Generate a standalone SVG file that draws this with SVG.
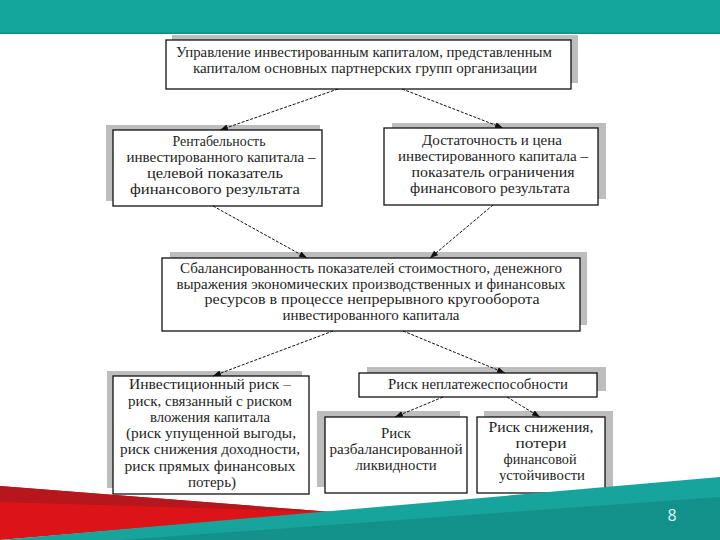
<svg xmlns="http://www.w3.org/2000/svg" width="720" height="540" viewBox="0 0 720 540">
<defs>
<marker id="ah" markerWidth="8" markerHeight="6" refX="8" refY="3" orient="auto" markerUnits="userSpaceOnUse">
<path d="M0,0 L8,3 L0,6 Z" fill="#111"/>
</marker>
<style>
.sh{fill:#bdbdbd}
.bx{fill:#fff;stroke:#111;stroke-width:1.3}
.t{font-family:"Liberation Serif","Times New Roman",serif;font-size:14px;fill:#1e1e1e;text-anchor:middle}
.ar{stroke:#111;stroke-width:1;stroke-dasharray:3 1.5;fill:none;marker-end:url(#ah)}
</style>
</defs>
<rect x="0" y="0" width="720" height="540" fill="#fff"/>
<rect x="0" y="0" width="720" height="34" fill="#14a59c"/>
<rect x="0" y="32.5" width="720" height="1.5" fill="#0f8f88"/>

<g id="n1">
<rect class="sh" x="172" y="35" width="406" height="48"/>
<rect class="bx" x="166" y="40" width="405" height="49"/>
<text class="t" x="364" y="57" textLength="376" lengthAdjust="spacingAndGlyphs">Управление инвестированным капиталом, представленным</text>
<text class="t" x="365" y="73" textLength="344" lengthAdjust="spacingAndGlyphs">капиталом основных партнерских групп организации</text>
</g>

<g id="n2">
<rect class="sh" x="106" y="125" width="214" height="76"/>
<rect class="bx" x="113" y="130" width="209" height="76"/>
<text class="t" x="219" y="146" textLength="93" lengthAdjust="spacingAndGlyphs">Рентабельность</text>
<text class="t" x="221" y="162" textLength="189" lengthAdjust="spacingAndGlyphs">инвестированного капитала –</text>
<text class="t" x="215" y="178" textLength="136" lengthAdjust="spacingAndGlyphs">целевой показатель</text>
<text class="t" x="215" y="194" textLength="170" lengthAdjust="spacingAndGlyphs">финансового результата</text>
</g>

<g id="n3">
<rect class="sh" x="392" y="123" width="214" height="76"/>
<rect class="bx" x="384" y="128" width="214" height="77"/>
<text class="t" x="492" y="145" textLength="140" lengthAdjust="spacingAndGlyphs">Достаточность и цена</text>
<text class="t" x="493" y="161" textLength="190" lengthAdjust="spacingAndGlyphs">инвестированного капитала –</text>
<text class="t" x="493" y="177" textLength="163" lengthAdjust="spacingAndGlyphs">показатель ограничения</text>
<text class="t" x="490" y="193" textLength="160" lengthAdjust="spacingAndGlyphs">финансового результата</text>
</g>

<g id="n4">
<rect class="sh" x="170" y="252" width="417" height="73"/>
<rect class="bx" x="162" y="258" width="418" height="73"/>
<text class="t" x="371" y="273" textLength="382" lengthAdjust="spacingAndGlyphs">Сбалансированность показателей стоимостного, денежного</text>
<text class="t" x="371" y="289" textLength="389" lengthAdjust="spacingAndGlyphs">выражения экономических производственных и финансовых</text>
<text class="t" x="372" y="304" textLength="335" lengthAdjust="spacingAndGlyphs">ресурсов в процессе непрерывного кругооборота</text>
<text class="t" x="371" y="320" textLength="177" lengthAdjust="spacingAndGlyphs">инвестированного капитала</text>
</g>

<g id="n5">
<rect class="sh" x="107" y="371" width="195" height="117"/>
<rect class="bx" x="113" y="376" width="196" height="118"/>
<text class="t" x="210" y="389" textLength="162" lengthAdjust="spacingAndGlyphs">Инвестиционный риск –</text>
<text class="t" x="210" y="406" textLength="164" lengthAdjust="spacingAndGlyphs">риск, связанный с риском</text>
<text class="t" x="210" y="422" textLength="120" lengthAdjust="spacingAndGlyphs">вложения капитала</text>
<text class="t" x="211" y="438" textLength="170" lengthAdjust="spacingAndGlyphs">(риск упущенной выгоды,</text>
<text class="t" x="210" y="454" textLength="180" lengthAdjust="spacingAndGlyphs">риск снижения доходности,</text>
<text class="t" x="210" y="471" textLength="171" lengthAdjust="spacingAndGlyphs">риск прямых финансовых</text>
<text class="t" x="212" y="487" textLength="48" lengthAdjust="spacingAndGlyphs">потерь)</text>
</g>

<g id="n6">
<rect class="sh" x="367" y="367" width="239" height="24"/>
<rect class="bx" x="359" y="373" width="238" height="24"/>
<text class="t" x="478" y="389" textLength="180" lengthAdjust="spacingAndGlyphs">Риск неплатежеспособности</text>
</g>

<g id="n7">
<rect class="sh" x="317" y="411" width="143" height="76"/>
<rect class="bx" x="325" y="417" width="142" height="76"/>
<text class="t" x="396" y="438" textLength="30" lengthAdjust="spacingAndGlyphs">Риск</text>
<text class="t" x="396" y="454" textLength="133" lengthAdjust="spacingAndGlyphs">разбалансированной</text>
<text class="t" x="396" y="470" textLength="81" lengthAdjust="spacingAndGlyphs">ликвидности</text>
</g>

<g id="n8">
<rect class="sh" x="484" y="411" width="129" height="76"/>
<rect class="bx" x="477" y="417" width="128" height="76"/>
<text class="t" x="541" y="432" textLength="105" lengthAdjust="spacingAndGlyphs">Риск снижения,</text>
<text class="t" x="541" y="448" textLength="51" lengthAdjust="spacingAndGlyphs">потери</text>
<text class="t" x="540" y="464" textLength="73" lengthAdjust="spacingAndGlyphs">финансовой</text>
<text class="t" x="542" y="480" textLength="86" lengthAdjust="spacingAndGlyphs">устойчивости</text>
</g>

<g id="connectors">
<line class="ar" x1="338" y1="89" x2="220" y2="130"/>
<line class="ar" x1="402" y1="89" x2="503" y2="128"/>
<line class="ar" x1="213" y1="206" x2="307" y2="258"/>
<line class="ar" x1="493" y1="205" x2="430" y2="258"/>
<line class="ar" x1="333" y1="331" x2="213" y2="376"/>
<line class="ar" x1="403" y1="331" x2="505" y2="373"/>
<line class="ar" x1="443" y1="397" x2="395" y2="417"/>
<line class="ar" x1="507" y1="397" x2="540" y2="417"/>
</g>

<g id="footer">
<polygon points="0,486 332,512 0,540" fill="#dc1418"/>
<polygon points="0,486 332,512 0,502" fill="#b5171c"/>
<polygon points="0,540 720,477 720,540" fill="#17a49c"/>
<polygon points="120,540 720,497 720,540" fill="#13928c"/>
<text x="672" y="521" font-family="'Open Sans','Liberation Sans',sans-serif" font-size="16" fill="#dff6f4" text-anchor="middle">8</text>
</g>
</svg>
